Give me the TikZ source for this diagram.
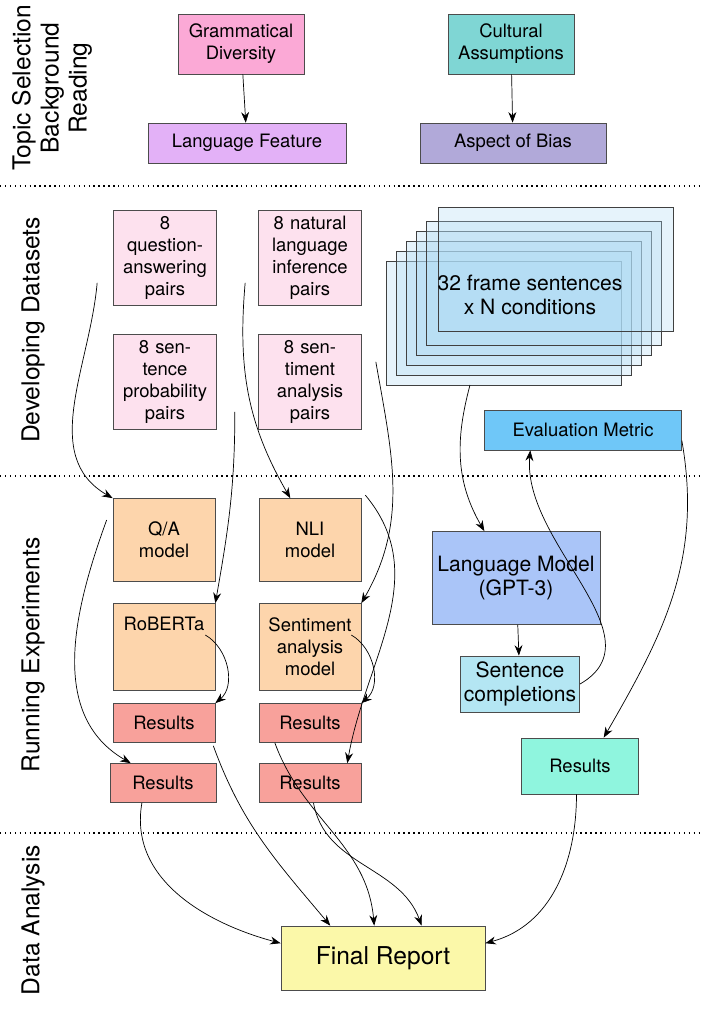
\documentclass[tikz,border=0pt]{standalone}
\usepackage{fontspec}
\setmainfont{TeX Gyre Heros}
\usetikzlibrary{positioning, arrows.meta}
\definecolor{cPink}{HTML}{FBA9D6}
\definecolor{cTeal}{HTML}{7FD6D4}
\definecolor{cViolet}{HTML}{E3B1F7}
\definecolor{cLav}{HTML}{B1A9D9}
\definecolor{cPair}{HTML}{FDE1EE}
\definecolor{cPeach}{HTML}{FDD5AC}
\definecolor{cSalmon}{HTML}{F8A19B}
\definecolor{cFrame}{HTML}{ABD8F2}
\definecolor{cEval}{HTML}{6FC7F8}
\definecolor{cLM}{HTML}{AAC5F8}
\definecolor{cComp}{HTML}{B4E6F3}
\definecolor{cMint}{HTML}{8FF5DE}
\definecolor{cFinal}{HTML}{FBF8A9}
\begin{document}
\begin{tikzpicture}[x=0.02cm, y=-0.02cm, font=\fontsize{10.5}{12.5}\selectfont]
\tikzset{
  box/.style={draw=black!70, thin, align=center, inner sep=2pt},
  arr/.style={-{Stealth[length=6pt, width=4.5pt]}, thin},
  phase/.style={rotate=90, align=center, font=\fontsize{14}{16}\selectfont},
  sep/.style={dotted, thick}
}
\useasboundingbox (0,0) rectangle (703,1009);
% phase labels
\node[phase] (ph1) at (52,88) {Topic Selection\\Background\\Reading};
\node[phase] (ph2) at (33,330) {Developing Datasets};
\node[phase] (ph3) at (33,655) {Running Experiments};
\node[phase] (ph4) at (33,920) {Data Analysis};
\draw[sep] (0,186) -- (703,186);
\draw[sep] (0,476) -- (703,476);
\draw[sep] (0,833) -- (703,833);
% topic selection
\node[box, fill=cPink, minimum width=2.52cm, minimum height=1.2cm] (gram) at (241,44) {Grammatical\\Diversity};
\node[box, fill=cTeal, minimum width=2.52cm, minimum height=1.2cm] (cult) at (511,44) {Cultural\\Assumptions};
\node[box, fill=cViolet, minimum width=3.96cm, minimum height=0.8cm] (feat) at (247,143) {Language Feature};
\node[box, fill=cLav, minimum width=3.72cm, minimum height=0.8cm] (bias) at (513,143) {Aspect of Bias};
\draw[arr] (gram) -- (feat);
\draw[arr] (cult) -- (bias);
% datasets
\tikzset{pair/.style={box, fill=cPair, minimum width=2.06cm, minimum height=1.9cm, text width=1.8cm, anchor=north}}
\node[pair] (qap) at (165,210) {8 question-\\answering\\pairs\\[0.55cm]};
\node[pair] (nlip) at (310,210) {8 natural\\language\\inference\\pairs\\[0.15cm]};
\node[pair] (spp) at (165,334) {8 sentence\\probability\\pairs\\[0.55cm]};
\node[pair] (sap) at (310,334) {8 sentiment\\analysis\\pairs\\[0.55cm]};
\foreach \i/\dx/\dy in {0/0/0,1/10/-10,2/20/-20,3/30/-30,4/40/-40,5/52/-54}
  \draw[draw=black!75, fill=cFrame, fill opacity=0.3] (386+\dx,261+\dy) rectangle ++(235,124);
\node[box, draw=none, font=\fontsize{12}{14}\selectfont] (frames) at (530,295) {32 frame sentences\\x N conditions};
\coordinate (stackbot) at (470,385);
\node[box, fill=cEval, minimum width=3.94cm, minimum height=0.8cm] (eval) at (583,430) {Evaluation Metric};
% experiments
\tikzset{model/.style={box, fill=cPeach, minimum width=2.04cm, minimum height=1.66cm}}
\node[model] (qam) at (164,540) {Q/A\\model};
\node[model] (nlim) at (310,540) {NLI\\model};
\node[model, minimum height=1.74cm] (rob) at (164,647) {RoBERTa\\[0.5cm]};
\node[model, minimum height=1.74cm] (sam) at (310,647) {Sentiment\\analysis\\model};
\tikzset{res/.style={box, fill=cSalmon, minimum width=2.04cm, minimum height=0.78cm}}
\node[res] (res1) at (164,723) {Results};
\node[res] (res2) at (310,723) {Results};
\node[res, minimum width=2.12cm] (res3) at (163,783) {Results};
\node[res] (res4) at (310,783) {Results};
\node[box, fill=cLM, minimum width=3.36cm, minimum height=1.86cm, font=\fontsize{12}{14}\selectfont] (lm) at (516,578) {Language Model\\(GPT-3)};
\node[box, fill=cComp, minimum width=2.38cm, minimum height=1.12cm, font=\fontsize{12}{14}\selectfont] (comp) at (520,684) {Sentence\\completions};
\node[box, fill=cMint, minimum width=2.34cm, minimum height=1.12cm] (res5) at (580,766) {Results};
% analysis
\node[box, fill=cFinal, minimum width=4.08cm, minimum height=1.28cm, font=\fontsize{14}{16}\selectfont] (final) at (383,958) {Final Report};
% connectors
\draw[arr] ([shift={(-16,25)}]qap.west) to[out=-95, in=150] (qam.north west);
\draw[arr] ([shift={(-13,25)}]nlip.west) to[out=-95, in=120] ([xshift=18pt]nlim.north west);
\draw[arr] ([shift={(18,30)}]spp.east) to[out=-90, in=80] (rob.north east);
\draw[arr] ([shift={(14,-20)}]sap.east) to[out=-80, in=60] (sam.north east);
\draw[arr] ([shift={(-6,-20)}]qam.west) to[out=-110, in=150] ([xshift=12pt]res3.north west);
\draw[arr] ([shift={(-10,-12)}]rob.east) to[out=-30, in=40] (res1.north east);
\draw[arr] ([shift={(-10,-12)}]sam.east) to[out=-30, in=40] (res2.north east);
\draw[arr] ([shift={(4,-3)}]nlim.north east) to[out=-50, in=80] ([xshift=-8pt]res4.north east);
\draw[arr] ([shift={(-2,3)}]res1.south east) to[out=-70, in=130] ([xshift=-30pt]final.north);
\draw[arr] ([xshift=-12pt]res3.south) to[out=-100, in=165] ([yshift=-10pt]final.north west);
\draw[arr] ([xshift=-20pt]res2.south) to[out=-70, in=95] ([xshift=-5pt]final.north);
\draw[arr] ([xshift=2pt]res4.south) to[out=-80, in=110] ([xshift=22pt]final.north);
\draw[arr] ([xshift=-2pt]res5.south) to[out=-90, in=15] ([yshift=-10pt]final.north east);
\draw[arr] (stackbot) to[out=-105, in=120] ([xshift=30pt]lm.north west);
\draw[arr] (lm) -- (comp);
\draw[arr] (comp.east) to[out=30, in=-95] ([xshift=-30pt]eval.south);
\draw[arr] ([yshift=-6pt]eval.east) to[out=-80, in=60] ([xshift=-20pt]res5.north east);
\end{tikzpicture}
\end{document}
